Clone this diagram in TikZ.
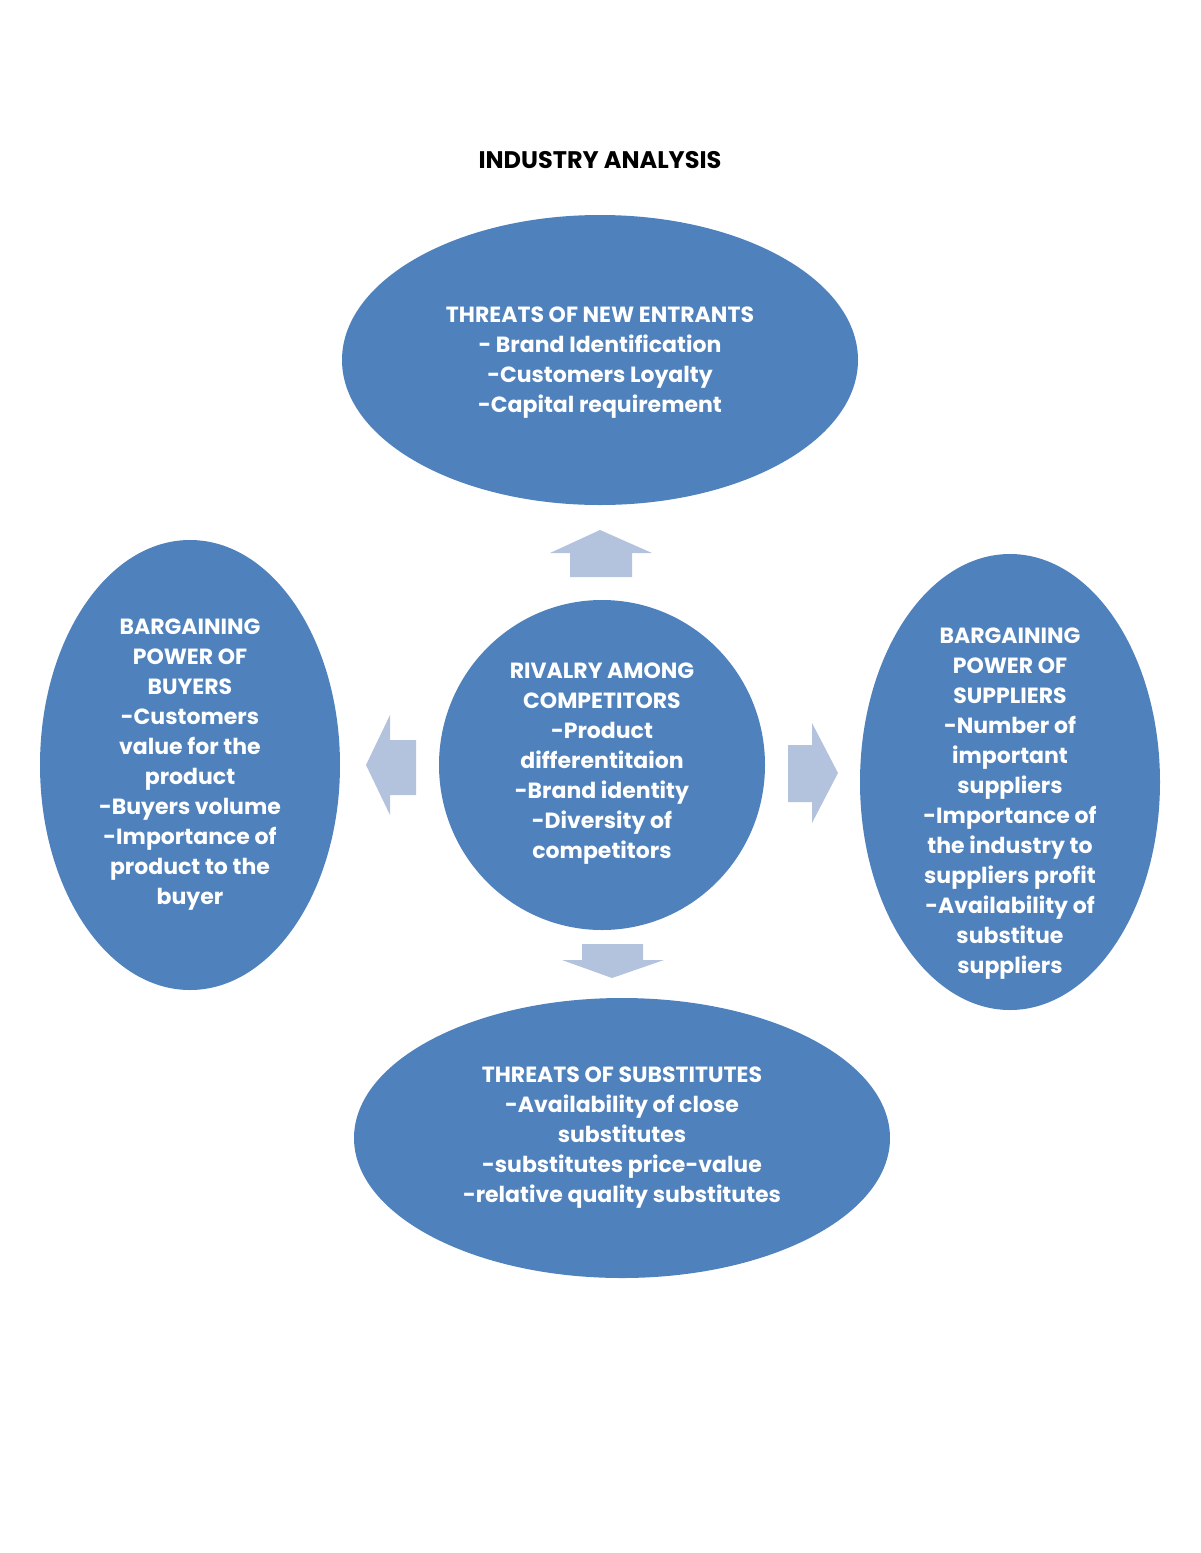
\documentclass[tikz,border=0pt]{standalone}
\usepackage{fontspec}
\setmainfont{Poppins}
\definecolor{ell}{HTML}{4F81BD}
\definecolor{arr}{HTML}{B3C3DD}
\tikzset{
 ellb/.style={fill=ell,draw=none},
 txt/.style={text=white,font=\bfseries\fontsize{11}{15}\selectfont,align=center},
 arrw/.style={fill=arr,draw=none}
}
\begin{document}
\begin{tikzpicture}[x=0.5pt,y=-0.5pt]
\useasboundingbox (0,0) rectangle (1200,1553);
\node[font=\bfseries\fontsize{12}{14}\selectfont] (title) at (600,160) {INDUSTRY ANALYSIS};
\fill[ellb] (600,360) ellipse [x radius=258,y radius=145];
\fill[ellb] (190,765) ellipse [x radius=150,y radius=225];
\fill[ellb] (602,765) ellipse [x radius=163,y radius=165];
\fill[ellb] (1010,782) ellipse [x radius=150,y radius=228];
\fill[ellb] (622,1138) ellipse [x radius=268,y radius=140];
\node[txt] (top) at (600,363) {THREATS OF NEW ENTRANTS\\- Brand Identification\\-Customers Loyalty\\-Capital requirement};
\node[txt] (left) at (190,765) {BARGAINING\\POWER OF\\BUYERS\\-Customers\\value for the\\product\\-Buyers volume\\-Importance of\\product to the\\buyer};
\node[txt] (mid) at (602,764) {RIVALRY AMONG\\COMPETITORS\\-Product\\differentitaion\\-Brand identity\\-Diversity of\\competitors};
\node[txt] (right) at (1010,804) {BARGAINING\\POWER OF\\SUPPLIERS\\-Number of\\important\\suppliers\\-Importance of\\the industry to\\suppliers profit\\-Availability of\\substitue\\suppliers};
\node[txt] (bot) at (622,1138) {THREATS OF SUBSTITUTES\\-Availability of close\\substitutes\\-substitutes price-value\\-relative quality substitutes};
\fill[arrw] (600,530) -- (652,553) -- (632,553) -- (632,577) -- (570,577) -- (570,553) -- (550,553) -- cycle;
\fill[arrw] (366,765) -- (390,715) -- (390,740) -- (416,740) -- (416,795) -- (390,795) -- (390,815) -- cycle;
\fill[arrw] (838,773) -- (812,723) -- (812,745) -- (788,745) -- (788,802) -- (812,802) -- (812,823) -- cycle;
\fill[arrw] (612,978) -- (664,960) -- (643,960) -- (643,944) -- (582,944) -- (582,960) -- (562,960) -- cycle;
\end{tikzpicture}
\end{document}
